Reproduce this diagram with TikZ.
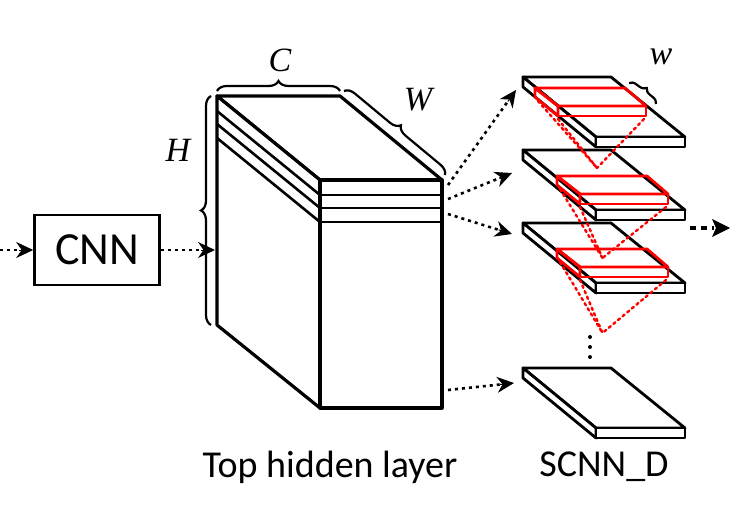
\documentclass[tikz,border=0pt]{standalone}
\usepackage{fontspec}
\setmainfont{Carlito}
\newfontfamily\tms{Liberation Serif}
\usetikzlibrary{arrows.meta,decorations.pathreplacing,calc}
\begin{document}
\begin{tikzpicture}[x=1pt,y=-1pt,
  blk/.style={line width=3.2pt,line join=round,fill=white},
  thin/.style={line width=2.6pt},
  slab/.style={line width=2.8pt,line join=round,fill=white},
  win/.style={red,line width=2.8pt,line join=round},
  rdot/.style={red,line width=2.4pt,dash pattern=on 2.5pt off 3.5pt,line cap=round},
  dl/.style={line width=2.6pt,dash pattern=on 3pt off 4pt,shorten >=12pt},
  tip/.style={line width=1pt,-{Stealth[length=17pt,width=16pt]}},
  brace/.style={line width=2.2pt,decorate,decoration={brace,amplitude=10pt}},
  lab/.style={font=\tms\itshape\fontsize{34}{34}\selectfont},
  txt/.style={font=\fontsize{38}{38}\selectfont}]
\useasboundingbox (0,0) rectangle (730,517);
% CNN
\node[draw,line width=2.6pt,minimum width=125pt,minimum height=70pt,font=\fontsize{46}{46}\selectfont] (cnn) at (97,250) {CNN};
\coordinate (in) at (0,250);
\coordinate (blkin) at (215,250);
\draw[dl] (in) -- (cnn.west);
\draw[tip] ($(cnn.west)!14pt!(in)$) -- (cnn.west);
\draw[dl] (cnn.east) -- (blkin);
\draw[tip] ($(blkin)!14pt!(cnn.east)$) -- (blkin);
% block
\coordinate (A) at (217,96); \coordinate (B) at (340,96);
\coordinate (Cc) at (442,180); \coordinate (D) at (320,180);
\coordinate (E) at (320,408); \coordinate (F) at (442,408);
\coordinate (G) at (217,325);
\draw[blk] (A) -- (B) -- (Cc) -- (D) -- cycle;
\draw[blk] (A) -- (D) -- (E) -- (G) -- cycle;
\draw[blk] (D) -- (Cc) -- (F) -- (E) -- cycle;
\foreach \y in {195,208,222}{
  \draw[thin] (320,\y) -- (442,\y);
  \draw[thin] (320,\y) -- (217,\y-84);}
% braces
\draw[brace] (217,91) -- (340,91);
\node[lab] (lc) at (280,60) {C};
\draw[brace] (344,91) -- (445,175);
\node[lab] (lw) at (418,100) {W};
\draw[brace] (211,325) -- (211,96);
\node[lab] (lh) at (178,150) {H};
% slices
\foreach \n/\o in {s1/0,s2/73,s3/146,s4/291}{
  \begin{scope}[yshift=-\o]
  \draw[slab] (523,77) -- (611,77) -- (685,137) -- (596,137) -- cycle;
  \draw[slab] (523,77) -- (596,137) -- (596,147) -- (523,87) -- cycle;
  \draw[slab] (596,137) -- (685,137) -- (685,147) -- (596,147) -- cycle;
  \coordinate (\n) at (520,80);
  \end{scope}}
% red windows and dotted cones
\foreach \n/\dx/\o/\ay in {w1/0/0/168,w2/22/88/258,w3/22/161/333}{
  \begin{scope}[xshift=\dx]
  \draw[win] (535,\o+88) -- (625,\o+88) -- (646,\o+106) -- (558,\o+106) -- cycle;
  \draw[win] (535,\o+88) -- (558,\o+106) -- (558,\o+116) -- (535,\o+97) -- cycle;
  \draw[win] (558,\o+106) -- (646,\o+106) -- (646,\o+116) -- (558,\o+116) -- cycle;
  \end{scope}
  \coordinate (\n) at (597+\dx/4,\ay);
  \draw[rdot] (538+\dx,\o+101) -- (\n);
  \draw[rdot] (558+\dx,\o+119) -- (\n);
  \draw[rdot] (644+\dx,\o+119) -- (\n);}
% small w brace
\draw[line width=2.2pt,decorate,decoration={brace,amplitude=7pt}] (629,83) -- (656,104);
\node[lab] (lsw) at (661,57) {w};
% arrows to slices
\coordinate (o1) at (448,185); \coordinate (o2) at (448,199); \coordinate (o3) at (448,214); \coordinate (o4) at (448,390);
\coordinate (t1) at (516,90); \coordinate (t2) at (512,173); \coordinate (t3) at (512,234); \coordinate (t4) at (514,383);
\foreach \a/\b in {o1/t1,o2/t2,o3/t3,o4/t4}{
  \draw[dl] (\a) -- (\b);
  \draw[tip] ($(\b)!14pt!(\a)$) -- (\b);}
\coordinate (r1) at (690,228); \coordinate (r2) at (730,228);
\draw[line width=4.5pt,dash pattern=on 6pt off 5pt] (r1) -- (714,228);
\fill (712,219) -- (730,228) -- (712,237) -- (716,228) -- cycle;
% vertical dots
\foreach \y in {337,347,357}{\fill (590,\y) circle (2pt);}
% labels
\node[txt] (l1) at (330,467) {Top hidden layer};
\node[txt] (l2) at (604,467) {SCNN\_D};
\end{tikzpicture}
\end{document}
